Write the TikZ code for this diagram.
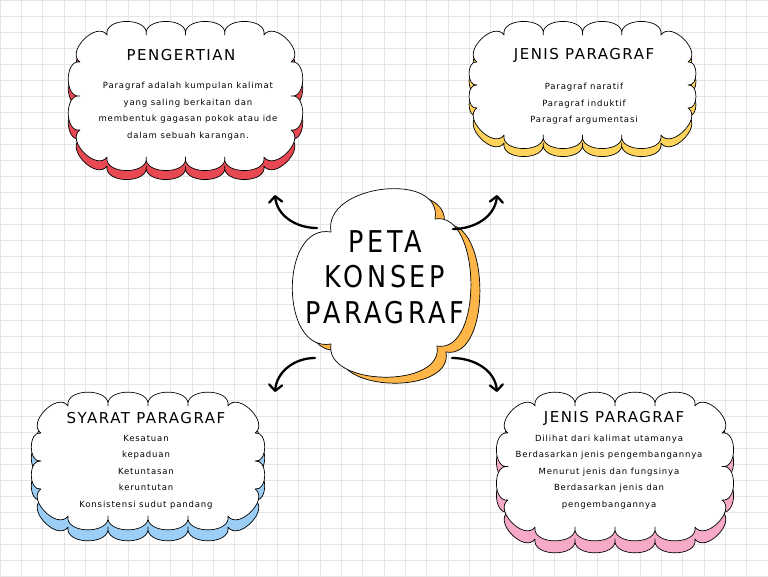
\documentclass[tikz,border=0pt]{standalone}
\usepackage{fontspec}
\setmainfont{DejaVu Sans}
\newfontfamily\titlefont[LetterSpace=10]{DejaVu Sans}
\newfontfamily\bodyfont[LetterSpace=10]{DejaVu Sans}
\newfontfamily\bigfont[LetterSpace=12,FakeStretch=0.85]{DejaVu Sans}
\usetikzlibrary{arrows.meta}
\definecolor{shadered}{RGB}{232,72,82}
\definecolor{shadeyellow}{RGB}{255,212,92}
\definecolor{shadeblue}{RGB}{156,206,245}
\definecolor{shadepink}{RGB}{246,170,200}
\definecolor{shadeorange}{RGB}{255,182,72}
\tikzset{
  gridline/.style = {draw=gray!20, line width=0.5pt},
  cloudline/.style = {draw=black, line width=0.7pt, line join=round},
  titletext/.style = {font=\titlefont\fontsize{15}{18}\selectfont},
  bodytext/.style = {align=center, font=\bodyfont\fontsize{8.5}{16.5}\selectfont},
  bigtext/.style = {align=center, font=\bigfont\fontsize{30}{35.5}\selectfont},
  flow/.style = {line width=2.3pt, line cap=round,
    -{Straight Barb[length=6pt,width=13pt,round]}}
}
% corner cut of the clouds
\newcommand{\cc}{27}
% scalloped outline, inner box (#1,#2)--(#3,#4), #5 bumps across, #6 bumps down
\newcommand{\cloudoutline}[6]{({#1+\cc},#2)
  \foreach \i in {1,...,#5} { to[out=-100,in=-80,looseness=1.2] ({#1+\cc+\i*\cdx},#2) }
  to[out=-55,in=-35,looseness=1.2] (#3,{#2+\cc})
  \foreach \j in {1,...,#6} { to[out=-10,in=10,looseness=1.2] (#3,{#2+\cc+\j*\cdy}) }
  to[out=35,in=55,looseness=1.2] ({#3-\cc},#4)
  \foreach \i in {1,...,#5} { to[out=80,in=100,looseness=1.2] ({#3-\cc-\i*\cdx},#4) }
  to[out=125,in=145,looseness=1.2] (#1,{#4-\cc})
  \foreach \j in {1,...,#6} { to[out=170,in=190,looseness=1.2] (#1,{#4-\cc-\j*\cdy}) }
  to[out=215,in=235,looseness=1.2] ({#1+\cc},#2) -- cycle}
\newcommand{\cloudbox}[8]{%
  \pgfmathsetmacro{\cdx}{(#3-#1-2*\cc)/#5}
  \pgfmathsetmacro{\cdy}{(#4-#2-2*\cc)/#6}
  \draw[cloudline,fill=#7,yshift=-#8] \cloudoutline{#1}{#2}{#3}{#4}{#5}{#6};
  \draw[cloudline,fill=white] \cloudoutline{#1}{#2}{#3}{#4}{#5}{#6};
}
\newcommand{\hubpath}{(331,232) to[out=-100,in=-80,looseness=1.05] (437,230)
  to[out=-10,in=10,looseness=0.95] (435,357)
  to[out=80,in=100,looseness=1.2] (331,344)
  to[out=170,in=190,looseness=1.2] (331,232) -- cycle}

\begin{document}
\begin{tikzpicture}[x=1pt,y=1pt]
  \useasboundingbox (0,0) rectangle (768,576);
  % paper
  \fill[white] (0,0) rectangle (768,576);
  \draw[gridline] (0,0) grid[xstep=21.33,ystep=16] (768,576);
  % clouds
  \cloudbox{80}{419}{291}{541}{4}{2}{shadered}{9}
  \cloudbox{477}{441}{688}{541}{4}{2}{shadeyellow}{8}
  \cloudbox{41}{60}{255}{170}{4}{2}{shadeblue}{11}
  \cloudbox{508}{49}{722}{170}{4}{2}{shadepink}{12}
  % centre cloud
  \draw[cloudline,fill=shadeorange,xshift=9,yshift=-6] \hubpath;
  \draw[cloudline,fill=white] \hubpath;
  % texts
  \node[bigtext] (hub) at (385,299) {PETA\\KONSEP\\PARAGRAF};
  \node[titletext] (def-title) at (181,521) {PENGERTIAN};
  \node[bodytext] (def-body) at (188,465) {Paragraf adalah kumpulan kalimat\\yang saling berkaitan dan\\membentuk gagasan pokok atau ide\\dalam sebuah karangan.};
  \node[titletext] (kind-title) at (584,521) {JENIS PARAGRAF};
  \node[bodytext] (kind-body) at (584,472) {Paragraf naratif\\Paragraf induktif\\Paragraf argumentasi};
  \node[titletext] (rule-title) at (146,158) {SYARAT PARAGRAF};
  \node[bodytext] (rule-body) at (146,104) {Kesatuan\\kepaduan\\Ketuntasan\\keruntutan\\Konsistensi sudut pandang};
  \node[titletext] (type-title) at (614,158) {JENIS PARAGRAF};
  \node[bodytext] (type-body) at (609,104) {Dilihat dari kalimat utamanya\\Berdasarkan jenis pengembangannya\\Menurut jenis dan fungsinya\\Berdasarkan jenis dan\\pengembangannya};
  % arrows
  \coordinate (tl-from) at (317,348);
  \coordinate (tl-to) at (275,381);
  \coordinate (tr-from) at (453,347);
  \coordinate (tr-to) at (497,381);
  \coordinate (bl-from) at (315,218);
  \coordinate (bl-to) at (275,184);
  \coordinate (br-from) at (452,218);
  \coordinate (br-to) at (497,184);
  \draw[flow] (tl-from) to[out=180,in=-85] (tl-to);
  \draw[flow] (tr-from) to[out=0,in=-95] (tr-to);
  \draw[flow] (bl-from) to[out=180,in=85] (bl-to);
  \draw[flow] (br-from) to[out=0,in=95] (br-to);
\end{tikzpicture}
\end{document}
